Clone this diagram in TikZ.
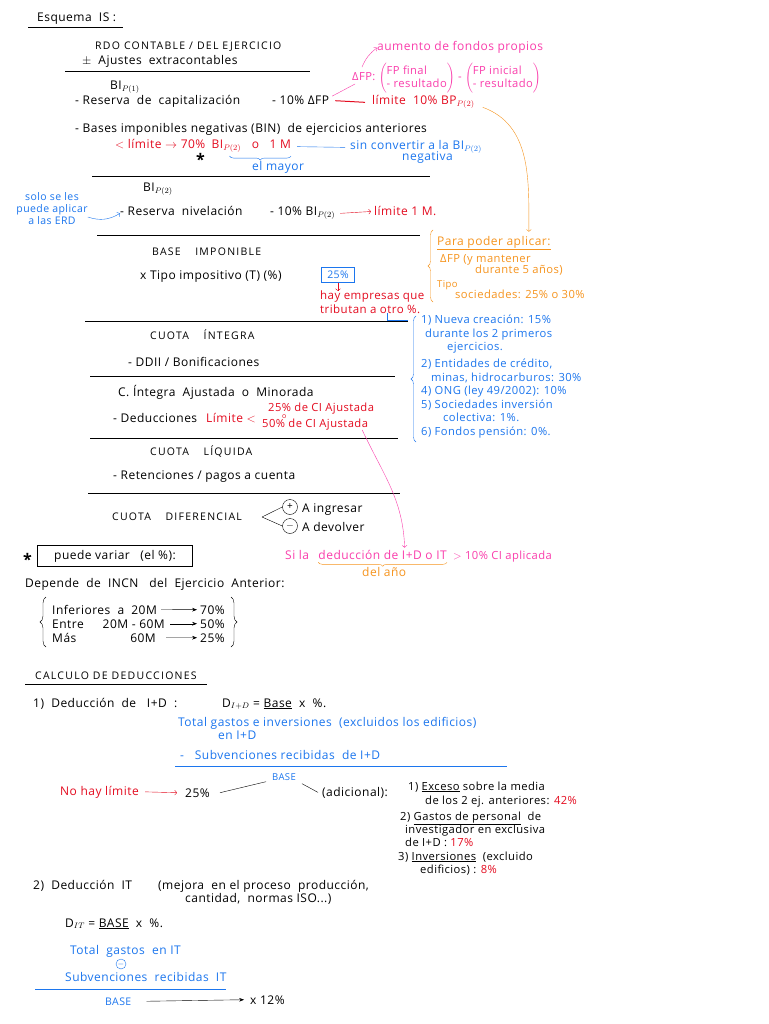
\documentclass[tikz,border=0pt]{standalone}
\usepackage{fontspec}
\setmainfont{Open Sans}
\newfontfamily\hand{Open Sans}[LetterSpace=4]
\newfontfamily\handcaps{Open Sans}[LetterSpace=12]
\usetikzlibrary{positioning,decorations.pathreplacing,arrows.meta}

\definecolor{redink}{RGB}{228,12,32}
\definecolor{blueink}{RGB}{28,118,238}
\definecolor{pinkink}{RGB}{250,62,172}
\definecolor{orangeink}{RGB}{246,148,30}

\tikzset{
  hw/.style={anchor=base west,inner sep=0pt,font=\hand\fontsize{12}{14}\selectfont},
  caps/.style={hw,font=\handcaps\fontsize{10.5}{12}\selectfont},
  smallhw/.style={font=\hand\fontsize{11.2}{13.6}\selectfont},
  redhw/.style={hw,text=redink},
  bluehw/.style={hw,text=blueink},
  pinkhw/.style={hw,text=pinkink},
  orangehw/.style={hw,text=orangeink},
  rule/.style={line width=0.9pt},
  signo/.style={circle,draw,inner sep=0pt,minimum size=15pt,font=\fontsize{10}{10}\selectfont},
  estrella/.style={hw,font=\fontsize{16}{16}\selectfont\bfseries},
}

\begin{document}
\begin{tikzpicture}[x=1pt,y=-1pt]
\useasboundingbox[fill=white] (0,0) rectangle (768,1024);

% titulo
\node[hw] (titulo) at (37,22) {Esquema \ IS :};
\draw[rule] (28,27) -- (123,27);

% resultado contable y base previa
\node[caps] (rdo) at (95,50) {RDO CONTABLE / DEL EJERCICIO};
\node[hw] (ajustes) at (82,65) {$\pm$\; Ajustes \ extracontables};
\draw[rule] (65,71) -- (310,71);
\node[hw] (bip1) at (110,90) {BI$_{P(1)}$};
\node[hw] (rcap) at (75,105) {- Reserva \ de \ capitalización};
\node[hw] (dfp) at (272,105) {- 10\% ΔFP};
\node[redhw] (lim10) at (372,105) {límite \ 10\% BP$_{P(2)}$};
\draw[redink,line width=1pt] ([xshift=6pt]dfp.east) -- ([xshift=-7pt]lim10.west);

% aumento de fondos propios
\node[pinkhw] (aumento) at (377,51) {aumento de fondos propios};
\node[pinkhw,smallhw] (dfpdef) at (352,81)
  {ΔFP: $\left(\begin{tabular}{@{}l@{}}FP final\\- resultado\end{tabular}\right)$ -
   $\left(\begin{tabular}{@{}l@{}}FP inicial\\- resultado\end{tabular}\right)$};
\draw[pinkink] ([xshift=3pt]dfp.north east) -- ([xshift=3pt,yshift=-3pt]dfpdef.base west);
\draw[pinkink,->] ([xshift=10pt,yshift=-4pt]dfpdef.north west) to[bend left=15] (aumento.west);

% bases imponibles negativas
\node[hw] (bin) at (75,133) {- Bases imponibles negativas (BIN) \ de ejercicios anteriores};
\node[redhw] (limbin) at (115,149) {$<$ límite $\rightarrow$ 70\%};
\node[redhw,base right=6pt of limbin] (limbi) {BI$_{P(2)}$ \; o \; 1 M};
\node[bluehw] (sinconv) at (350,150) {sin convertir a la BI$_{P(2)}$};
\node[bluehw] (negativa) at (402,161) {negativa};
\draw[blueink] ([xshift=6pt]limbi.east) -- ([xshift=-5pt]sinconv.west);
\draw[blueink,decorate,decoration={brace,amplitude=4pt}]
  ([yshift=-3pt]limbi.south east) -- ([xshift=18pt,yshift=-3pt]limbi.south west);
\node[bluehw] (mayor) at (252,171) {el mayor};
\node[estrella] (ast1) at (196,166) {*};
\draw[rule] (92,176) -- (430,176);

% reserva de nivelacion
\node[hw] (bip2) at (143,192) {BI$_{P(2)}$};
\node[bluehw,anchor=center,align=center,font=\hand\fontsize{10.5}{12}\selectfont] (erd) at (52,209)
  {solo se les\\puede aplicar\\a las ERD};
\node[hw] (rniv) at (120,216) {- Reserva \ nivelación \qquad - 10\% BI$_{P(2)}$};
\node[redhw] (lim1m) at (374,216) {límite 1 M.};
\draw[blueink,->] ([yshift=-8pt]erd.east) to[bend right=25] (rniv.west);
\draw[redink,->] ([xshift=5pt]rniv.east) -- ([xshift=-3pt]lim1m.west);
\draw[rule] (97,235) -- (420,235);

% base imponible
\node[caps] (bi) at (152,255) {BASE \quad IMPONIBLE};
\node[hw] (tipo) at (140,279) {x Tipo impositivo (T) (\%)};
\node[draw=blueink,text=blueink,line width=0.8pt,font=\hand\fontsize{10.5}{12}\selectfont,
      minimum width=33pt,minimum height=15pt,inner sep=1pt] (tasa) at (338,275) {25\%};
\node[redhw,align=left,anchor=north west,font=\hand\fontsize{11.5}{14}\selectfont] (hay) at (320,291) {hay empresas que\\tributan a otro \%.};
\draw[redink,->] (tasa.south) -- (tasa.south |- hay.north);
\draw[blueink] (387,313) -- (387,320) -- (408,320);
\draw[rule] (85,321) -- (408,321);

% para poder aplicar
\draw[orangeink,decorate,decoration={brace,amplitude=5pt}] (433,302) -- (433,230);
\node[orangehw] (para) at (437,245) {\underline{Para poder aplicar:}};
\node[orangehw,smallhw] (dfpman) at (440,262) {ΔFP (y mantener};
\node[orangehw,smallhw] (durante) at (475,273) {durante 5 años)};
\node[orangehw,font=\hand\fontsize{9.5}{10}\selectfont] (tipo2) at (437,287) {Tipo};
\node[orangehw,smallhw] (soc) at (455,298) {sociedades: 25\% o 30\%};
\draw[orangeink,->] ([xshift=8pt,yshift=-5pt]lim10.east) to[out=-20,in=90] ([xshift=35pt,yshift=4pt]para.north);

% tipos especiales
\draw[blueink,decorate,decoration={brace,amplitude=5pt}] (416,442) -- (416,316);
\node[bluehw,smallhw,anchor=north west,align=left] (tipos) at (421,315)
  {1) Nueva creación: 15\%\\
   \hspace{4pt}durante los 2 primeros\\
   \hspace{26pt}ejercicios.\\[3pt]
   2) Entidades de crédito,\\
   \hspace{10pt}minas, hidrocarburos: 30\%\\
   4) ONG (ley 49/2002): 10\%\\
   5) Sociedades inversión\\
   \hspace{22pt}colectiva: 1\%.\\
   6) Fondos pensión: 0\%.};

% cuotas
\node[caps] (cint) at (150,339) {CUOTA \quad ÍNTEGRA};
\node[hw] (ddii) at (128,366) {- DDII / Bonificaciones};
\draw[rule] (90,376) -- (395,376);
\node[hw] (cia) at (118,396) {C. Íntegra \ Ajustada \ o \ Minorada};
\node[hw] (ded) at (113,422) {- Deducciones};
\node[redhw] (limded) at (206,422) {Límite $<$};
\node[redhw,smallhw] (ded25) at (268,411) {25\% de CI Ajustada};
\node[redhw,font=\fontsize{7}{7}\selectfont] (ded0) at (282,418) {o};
\node[redhw,smallhw] (ded50) at (262,427) {50\% de CI Ajustada};
\draw[rule] (90,438) -- (398,438);
\node[caps] (cliq) at (150,455) {CUOTA \quad LÍQUIDA};
\node[hw] (ret) at (113,479) {- Retenciones / pagos a cuenta};
\draw[rule] (88,493) -- (400,493);
\node[caps] (cdif) at (112,520) {CUOTA \quad DIFERENCIAL};
\node[signo] (mas) at (290,507) {+};
\node[signo] (menos) at (290,526) {$-$};
\coordinate (bif) at (262,517);
\draw (bif) -- (mas.west);
\draw (bif) -- (menos.west);
\node[hw] (ingresar) at (302,512) {A ingresar};
\node[hw] (devolver) at (302,531) {A devolver};

% si la deduccion...
\node[pinkhw] (si) at (285,559) {Si la};
\node[pinkhw,base right=9pt of si] (dedid) {deducción de I+D o IT};
\node[pinkhw,smallhw,base right=6pt of dedid] (mas10) {$>$ 10\% CI aplicada};
\draw[orangeink,decorate,decoration={brace,amplitude=4pt}]
  ([yshift=-3pt]dedid.south east) -- ([yshift=-3pt]dedid.south west);
\node[orangehw] (delano) at (362,576) {del año};
\draw[pinkink,->] ([xshift=-6pt]ded50.south east) to[out=-65,in=92] ([xshift=22pt,yshift=2pt]dedid.north);

% puede variar
\node[estrella] (ast2) at (23,565) {*};
\node[draw,line width=0.8pt,minimum width=155pt,minimum height=21pt,font=\hand\fontsize{12}{14}\selectfont]
  (varia) at (115,556) {puede variar \; (el \%):};
\node[hw] (depende) at (25,587) {Depende \ de \ INCN \ \ del \ Ejercicio \ Anterior:};
\draw[decorate,decoration={brace,amplitude=6pt}] (46,647) -- (46,597);
\draw[decorate,decoration={brace,amplitude=6pt}] (231,597) -- (231,647);
\node[hw] (inf) at (52,614) {Inferiores \ a \ 20M};
\node[hw] (inf2) at (200,614) {70\%};
\node[hw] (ent) at (52,628) {Entre};
\node[hw,anchor=base east] (ent1) at (165,628) {20M - 60M};
\node[hw] (ent2) at (200,628) {50\%};
\node[hw] (mas60) at (52,642) {Más};
\node[hw,anchor=base east] (mas601) at (156,642) {60M};
\node[hw] (mas602) at (200,642) {25\%};
\draw[-Stealth] ([xshift=4pt]inf.east) -- ([xshift=-3pt]inf2.west);
\draw[-Stealth] ([xshift=5pt]ent1.east) -- ([xshift=-3pt]ent2.west);
\draw[-Stealth] ([xshift=10pt]mas601.east) -- ([xshift=-3pt]mas602.west);

% calculo de deducciones
\node[caps] (calc) at (35,679) {CALCULO DE DEDUCCIONES};
\draw[rule] (25,684) -- (207,684);
\node[hw] (d1) at (33,707) {1) \ Deducción \ de \ \ I+D \ :};
\node[hw] (did) at (222,707) {D$_{I+D}$ = \underline{Base} \ x \ \%.};
\node[bluehw] (totid) at (178,726) {Total gastos e inversiones \ (excluidos los edificios)};
\node[bluehw] (enid) at (218,739) {en I+D};
\node[bluehw] (subid) at (180,759) {- \ \ Subvenciones recibidas \ de I+D};
\draw[blueink,line width=0.9pt] (175,766) -- (507,766);
\node[bluehw,font=\hand\fontsize{9.5}{10}\selectfont,anchor=center] (baseid) at (284,777) {BASE};
\node[redhw] (nohay) at (60,795) {No hay límite};
\node[hw] (gen) at (185,797) {25\%};
\node[hw] (adic) at (322,796) {(adicional):};
\draw[redink,->] ([xshift=6pt]nohay.east) -- ([xshift=-8pt]gen.west);
\draw ([xshift=10pt]gen.east) -- ([xshift=-6pt,yshift=-1pt]baseid.south west);
\draw ([xshift=6pt,yshift=-3pt]baseid.south east) -- ([xshift=-4pt]adic.west);
\node[hw,smallhw] (ad1) at (408,790) {1) \underline{Exceso} sobre la media};
\node[hw,smallhw] (ad1b) at (425,804) {de los 2 ej. anteriores: {\color{redink}42\%}};
\node[hw,smallhw] (ad2) at (400,820) {2) \underline{Gastos de personal} \ de};
\node[hw,smallhw] (ad2b) at (405,833) {investigador en exclusiva};
\node[hw,smallhw] (ad2c) at (405,846) {de I+D : {\color{redink}17\%}};
\node[hw,smallhw] (ad3) at (398,860) {3) \underline{Inversiones} \ (excluido};
\node[hw,smallhw] (ad3b) at (420,873) {edificios) : {\color{redink}8\%}};

% deduccion IT
\node[hw] (d2) at (33,889) {2) \ Deducción \ IT};
\node[hw] (mejora) at (158,889) {(mejora \ en el proceso \ producción,};
\node[hw] (cantidad) at (185,902) {cantidad, \ normas ISO...)};
\node[hw] (dit) at (65,927) {D$_{IT}$ = \underline{BASE} \ x \ \%.};
\node[bluehw] (totit) at (70,954) {Total \ gastos \ en IT};
\node[signo,draw=blueink,text=blueink,minimum size=10pt,font=\fontsize{8}{8}\selectfont] (menosit) at (121,964) {$-$};
\node[bluehw] (subit) at (65,981) {Subvenciones \ recibidas \ IT};
\draw[blueink,line width=0.9pt] (35,989) -- (226,989);
\node[bluehw,font=\hand\fontsize{10.5}{12}\selectfont] (baseit) at (105,1005) {BASE};
\node[hw] (doce) at (250,1004) {x 12\%};
\draw[-Stealth] ([xshift=15pt]baseit.east) -- ([xshift=-6pt]doce.west);
\end{tikzpicture}
\end{document}
